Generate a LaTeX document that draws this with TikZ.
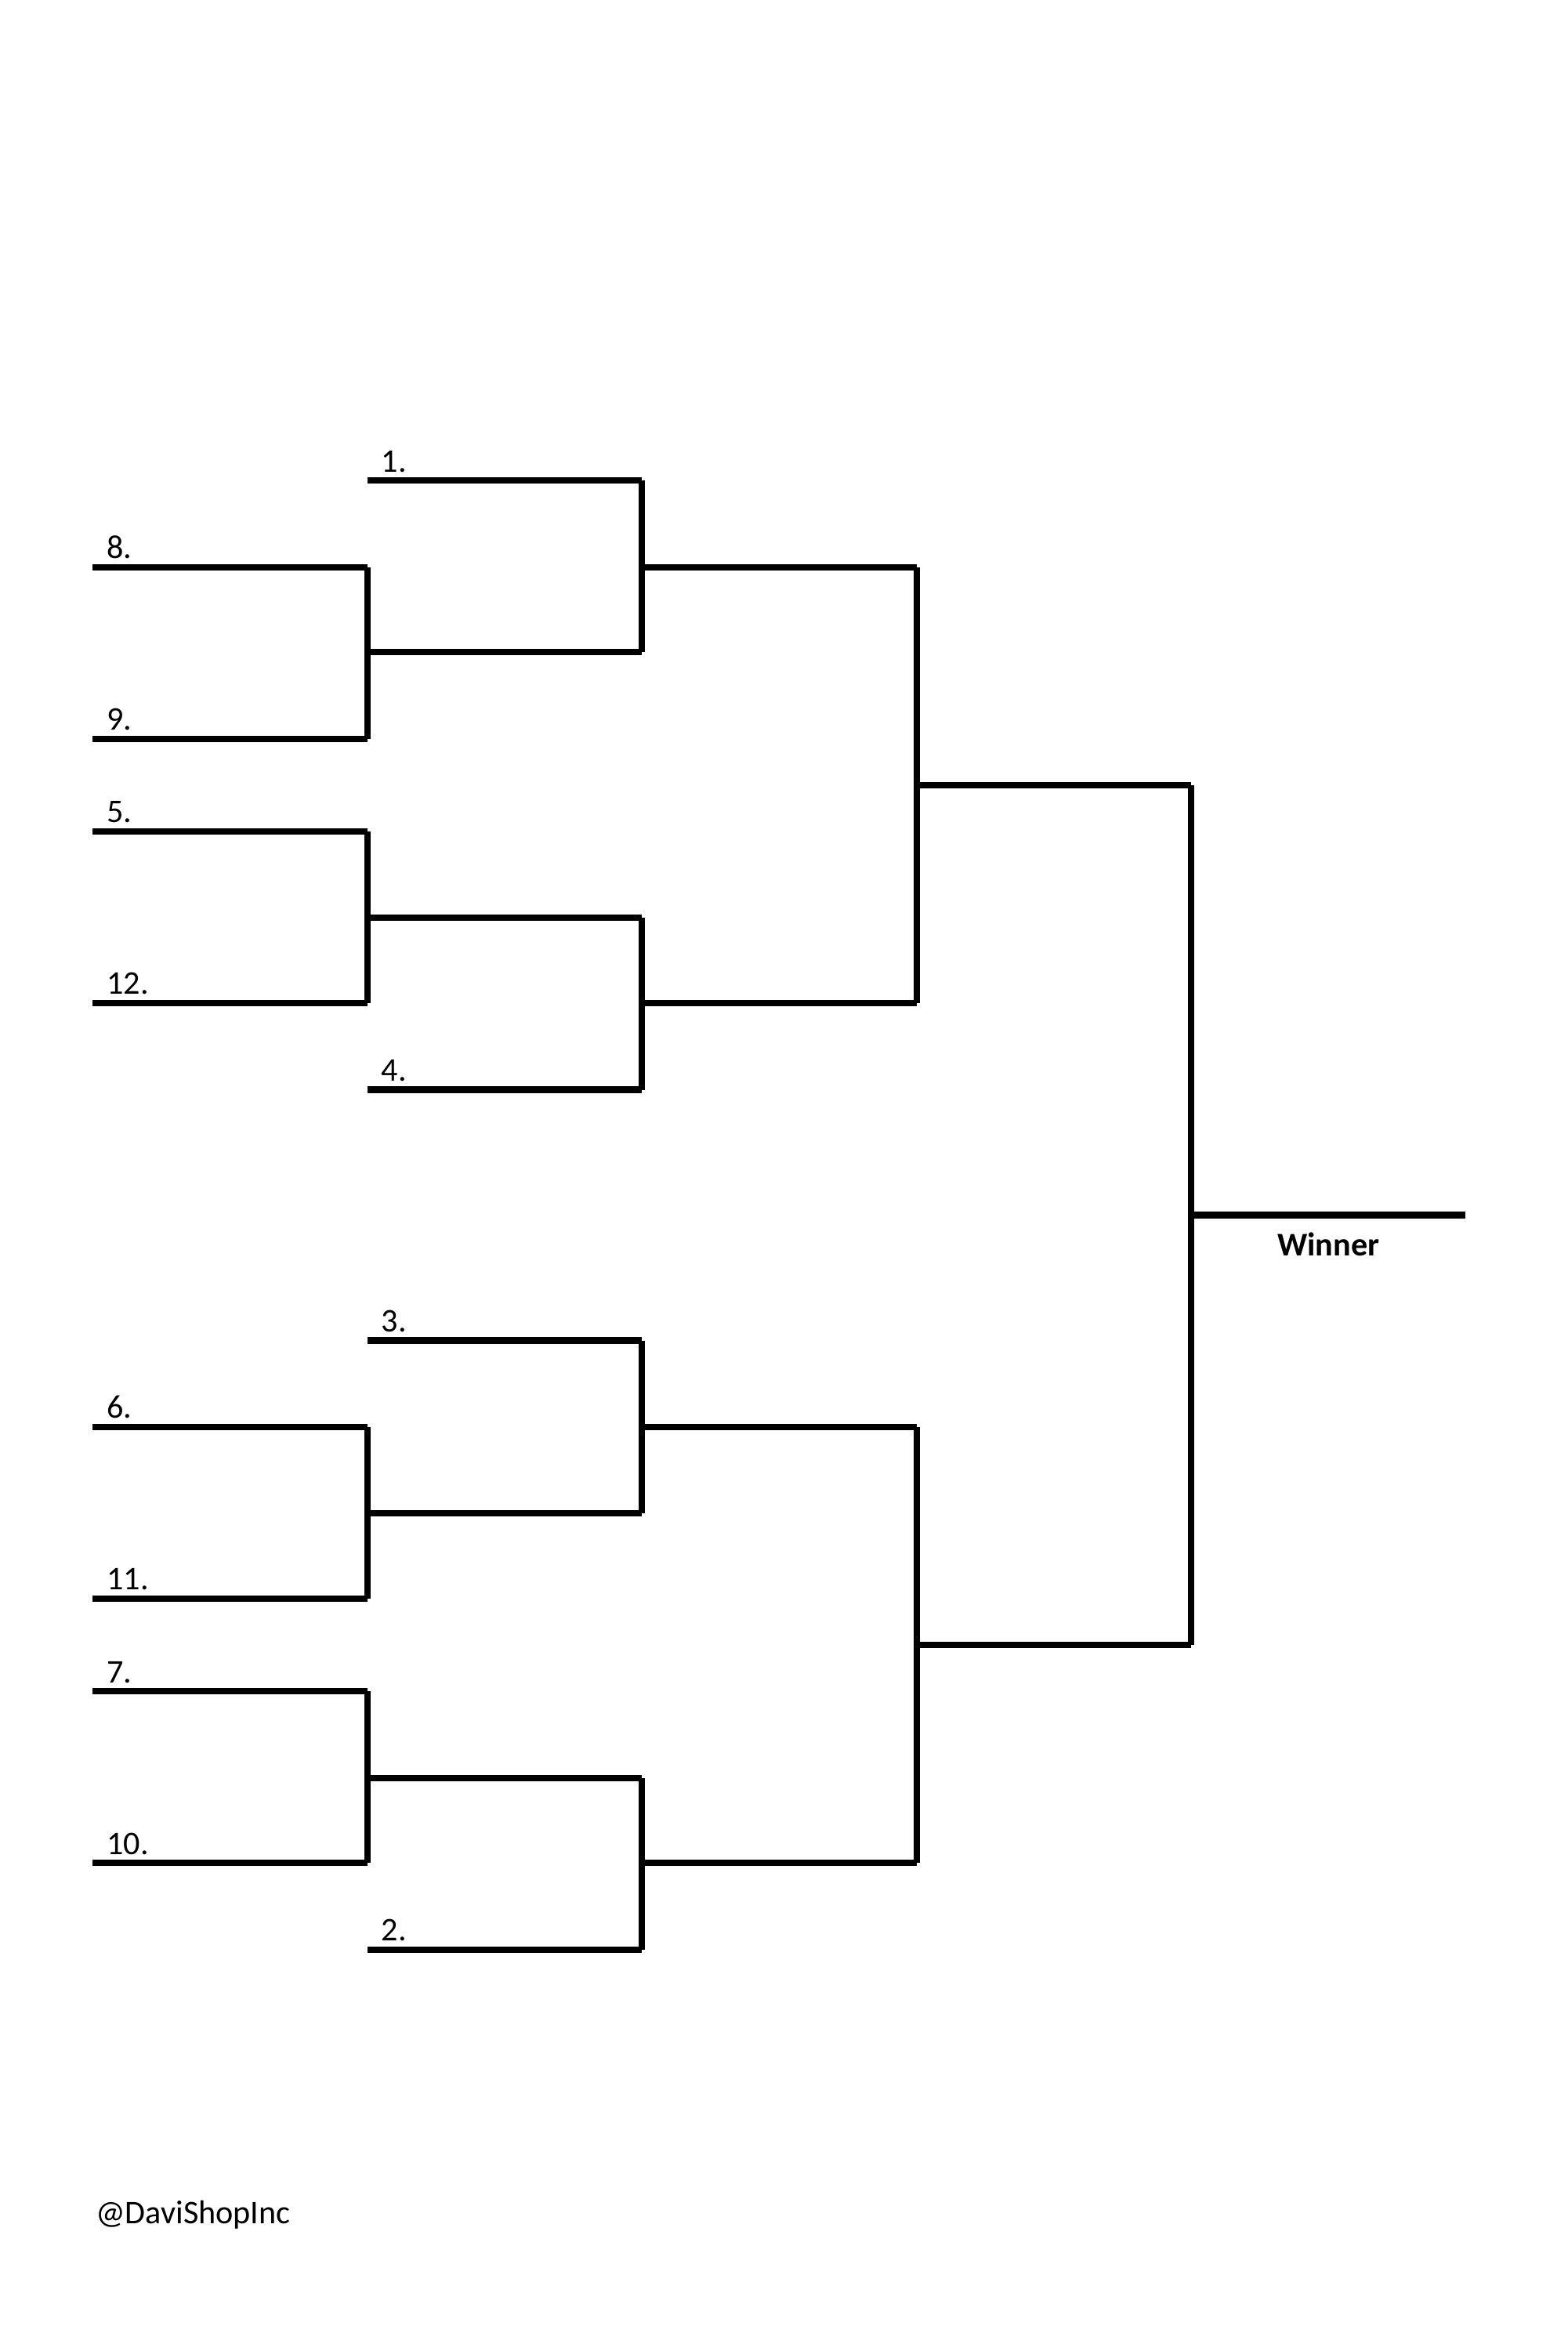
\documentclass[tikz,border=0pt]{standalone}
\usepackage{fontspec}
\setmainfont{Carlito}
\usetikzlibrary{calc}
\begin{document}
\begin{tikzpicture}[x=0.01cm,y=-0.01cm,line width=1.2pt,
  seed/.style={anchor=south west,inner sep=1pt,font=\fontsize{6.3}{7}\selectfont}]
  \useasboundingbox (0,0) rectangle (1050,1575);
  % Define first round slots
  \foreach \name/\y/\lbl in {s8/380/8., s9/495/9., s5/557/5., s12/672/12.,
      s6/956/6., s11/1071/11., s7/1133/7., s10/1248/10.} {
    \coordinate (\name) at (62,\y);
    \coordinate (\name e) at (246,\y);
    \node[seed] (\name l) at (66,\y) {\lbl};
    \draw (\name) -- (\name e);
  }
  % Byes
  \foreach \name/\y/\lbl in {s1/322/1., s4/730/4., s3/898/3., s2/1306/2.} {
    \coordinate (\name) at (246,\y);
    \coordinate (\name e) at (430,\y);
    \node[seed] (\name l) at (250,\y) {\lbl};
    \draw (\name) -- (\name e);
  }
  % Round one joins
  \coordinate (m89) at (246,437);
  \coordinate (m512) at (246,615);
  \coordinate (m611) at (246,1014);
  \coordinate (m710) at (246,1191);
  \draw (s8e) -- (s9e);
  \draw (s5e) -- (s12e);
  \draw (s6e) -- (s11e);
  \draw (s7e) -- (s10e);
  \draw (m89) -- (m89 -| s1e) coordinate (m89e);
  \draw (m512) -- (m512 -| s4e) coordinate (m512e);
  \draw (m611) -- (m611 -| s3e) coordinate (m611e);
  \draw (m710) -- (m710 -| s2e) coordinate (m710e);
  % Round two joins
  \draw (s1e) -- (m89e);
  \draw (m512e) -- (s4e);
  \draw (s3e) -- (m611e);
  \draw (m710e) -- (s2e);
  \coordinate (q1) at (430,380);
  \coordinate (q2) at (430,672);
  \coordinate (q3) at (430,956);
  \coordinate (q4) at (430,1248);
  \foreach \q in {q1,q2,q3,q4} \draw (\q) -- ++(184,0) coordinate (\q e);
  % Semi finals
  \draw (q1e) -- (q2e);
  \draw (q3e) -- (q4e);
  \coordinate (h1) at (614,526);
  \coordinate (h2) at (614,1102);
  \draw (h1) -- ++(184,0) coordinate (h1e);
  \draw (h2) -- ++(184,0) coordinate (h2e);
  \draw (h1e) -- (h2e);
  % Final
  \coordinate (f) at (798,814);
  \coordinate (w) at (982,814);
  \draw (f) -- (w);
  \node[anchor=north,inner sep=1pt,font=\fontsize{6.3}{7}\selectfont\bfseries] (winner) at (890,820) {Winner};
  \node[anchor=west,inner sep=0pt,font=\fontsize{6.3}{7}\selectfont] (credit) at (62,1484) {@DaviShopInc};
\end{tikzpicture}
\end{document}
